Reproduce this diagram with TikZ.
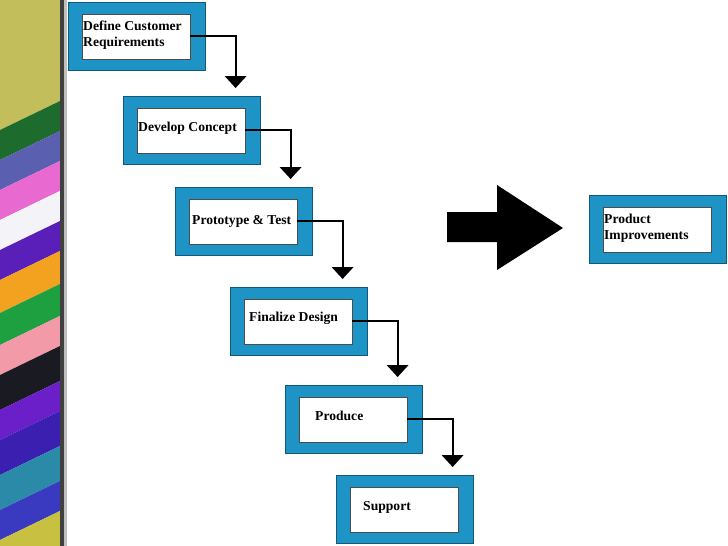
\documentclass[tikz,border=0pt]{standalone}
\usepackage{fontspec}
\setmainfont{Liberation Serif}
\begin{document}
\begin{tikzpicture}[x=1pt,y=-1pt,
  outerbox/.style={fill=boxblue,draw=boxblue!60!black,line width=0.6pt},
  innerbox/.style={fill=white,draw=black!70,line width=0.5pt},
  lbl/.style={font=\bfseries\fontsize{13.6}{16}\selectfont,align=left,anchor=west,inner sep=0pt},
  conn/.style={draw=black,line width=2pt}]
\definecolor{boxblue}{HTML}{1E93C6}
\definecolor{olv}{HTML}{C2BE5C}
\useasboundingbox (0,0) rectangle (728,546);
\fill[white] (0,0) rectangle (728,546);
% stripe strip
\def\stripe#1#2#3{\fill[#3] (0,#1+30) -- (62,#1) -- (62,#2) -- (0,#2+30) -- cycle;}
\fill[olv] (0,0) -- (62,0) -- (62,100) -- (0,130) -- cycle;
\definecolor{s1}{HTML}{1E6B2E}\definecolor{s2}{HTML}{5A5FB0}\definecolor{s3}{HTML}{E86AD0}
\definecolor{s4}{HTML}{F4F4F8}\definecolor{s5}{HTML}{5A1FB8}\definecolor{s6}{HTML}{F2A21E}
\definecolor{s7}{HTML}{1FA040}\definecolor{s8}{HTML}{F29AA8}\definecolor{s9}{HTML}{1A1A22}
\definecolor{s10}{HTML}{6A1FC8}\definecolor{s11}{HTML}{3A1FB0}\definecolor{s12}{HTML}{2A8AA8}
\definecolor{s13}{HTML}{3A3AC0}\definecolor{s14}{HTML}{C8C040}
\stripe{100}{130}{s1}\stripe{130}{160}{s2}\stripe{160}{190}{s3}\stripe{190}{220}{s4}
\stripe{220}{250}{s5}\stripe{250}{283}{s6}\stripe{283}{315}{s7}\stripe{315}{345}{s8}
\stripe{345}{380}{s9}\stripe{380}{410}{s10}\stripe{410}{445}{s11}\stripe{445}{480}{s12}
\stripe{480}{510}{s13}\stripe{510}{580}{s14}
\fill[white] (0,546) rectangle (62,600);
\fill[black!75] (60,0) rectangle (64,546);
\fill[black!25] (64,0) rectangle (67,546);
% boxes
\foreach \n/\x/\y in {a/68/2,b/123/96,c/175/187,d/230/287,e/285/385,f/336/475,p/589/195}{
  \node[outerbox,minimum width=137pt,minimum height=68pt,inner sep=0pt,anchor=north west] (o\n) at (\x,\y) {};
  \node[innerbox,minimum width=108pt,minimum height=45pt,inner sep=0pt] (i\n) at ([xshift=-1pt]o\n.center) {};
}
\node[lbl] at (83,35) {Define Customer\\Requirements};
\node[lbl] at (138,128) {Develop Concept};
\node[lbl] at (192,221) {Prototype \& Test};
\node[lbl] at (249,318) {Finalize Design};
\node[lbl] at (315,416) {Produce};
\node[lbl] at (363,507) {Support};
\node[lbl] at (604,228) {Product\\Improvements};
% connectors
\foreach \s/\t in {a/b,b/c,c/d,d/e,e/f}{
  \coordinate (k\s) at ([xshift=30pt]o\s.east);
  \draw[conn] (i\s.east) -| ([yshift=19pt]k\s |- o\t.north);
  \fill ([xshift=-11pt,yshift=20pt]k\s |- o\t.north) -- ([xshift=11pt,yshift=20pt]k\s |- o\t.north) -- ([yshift=8pt]k\s |- o\t.north) -- cycle;
}
% big arrow
\fill[black] (447,212) -- (497,212) -- (497,185) -- (563,228) -- (497,270) -- (497,242) -- (447,242) -- cycle;
\end{tikzpicture}
\end{document}
